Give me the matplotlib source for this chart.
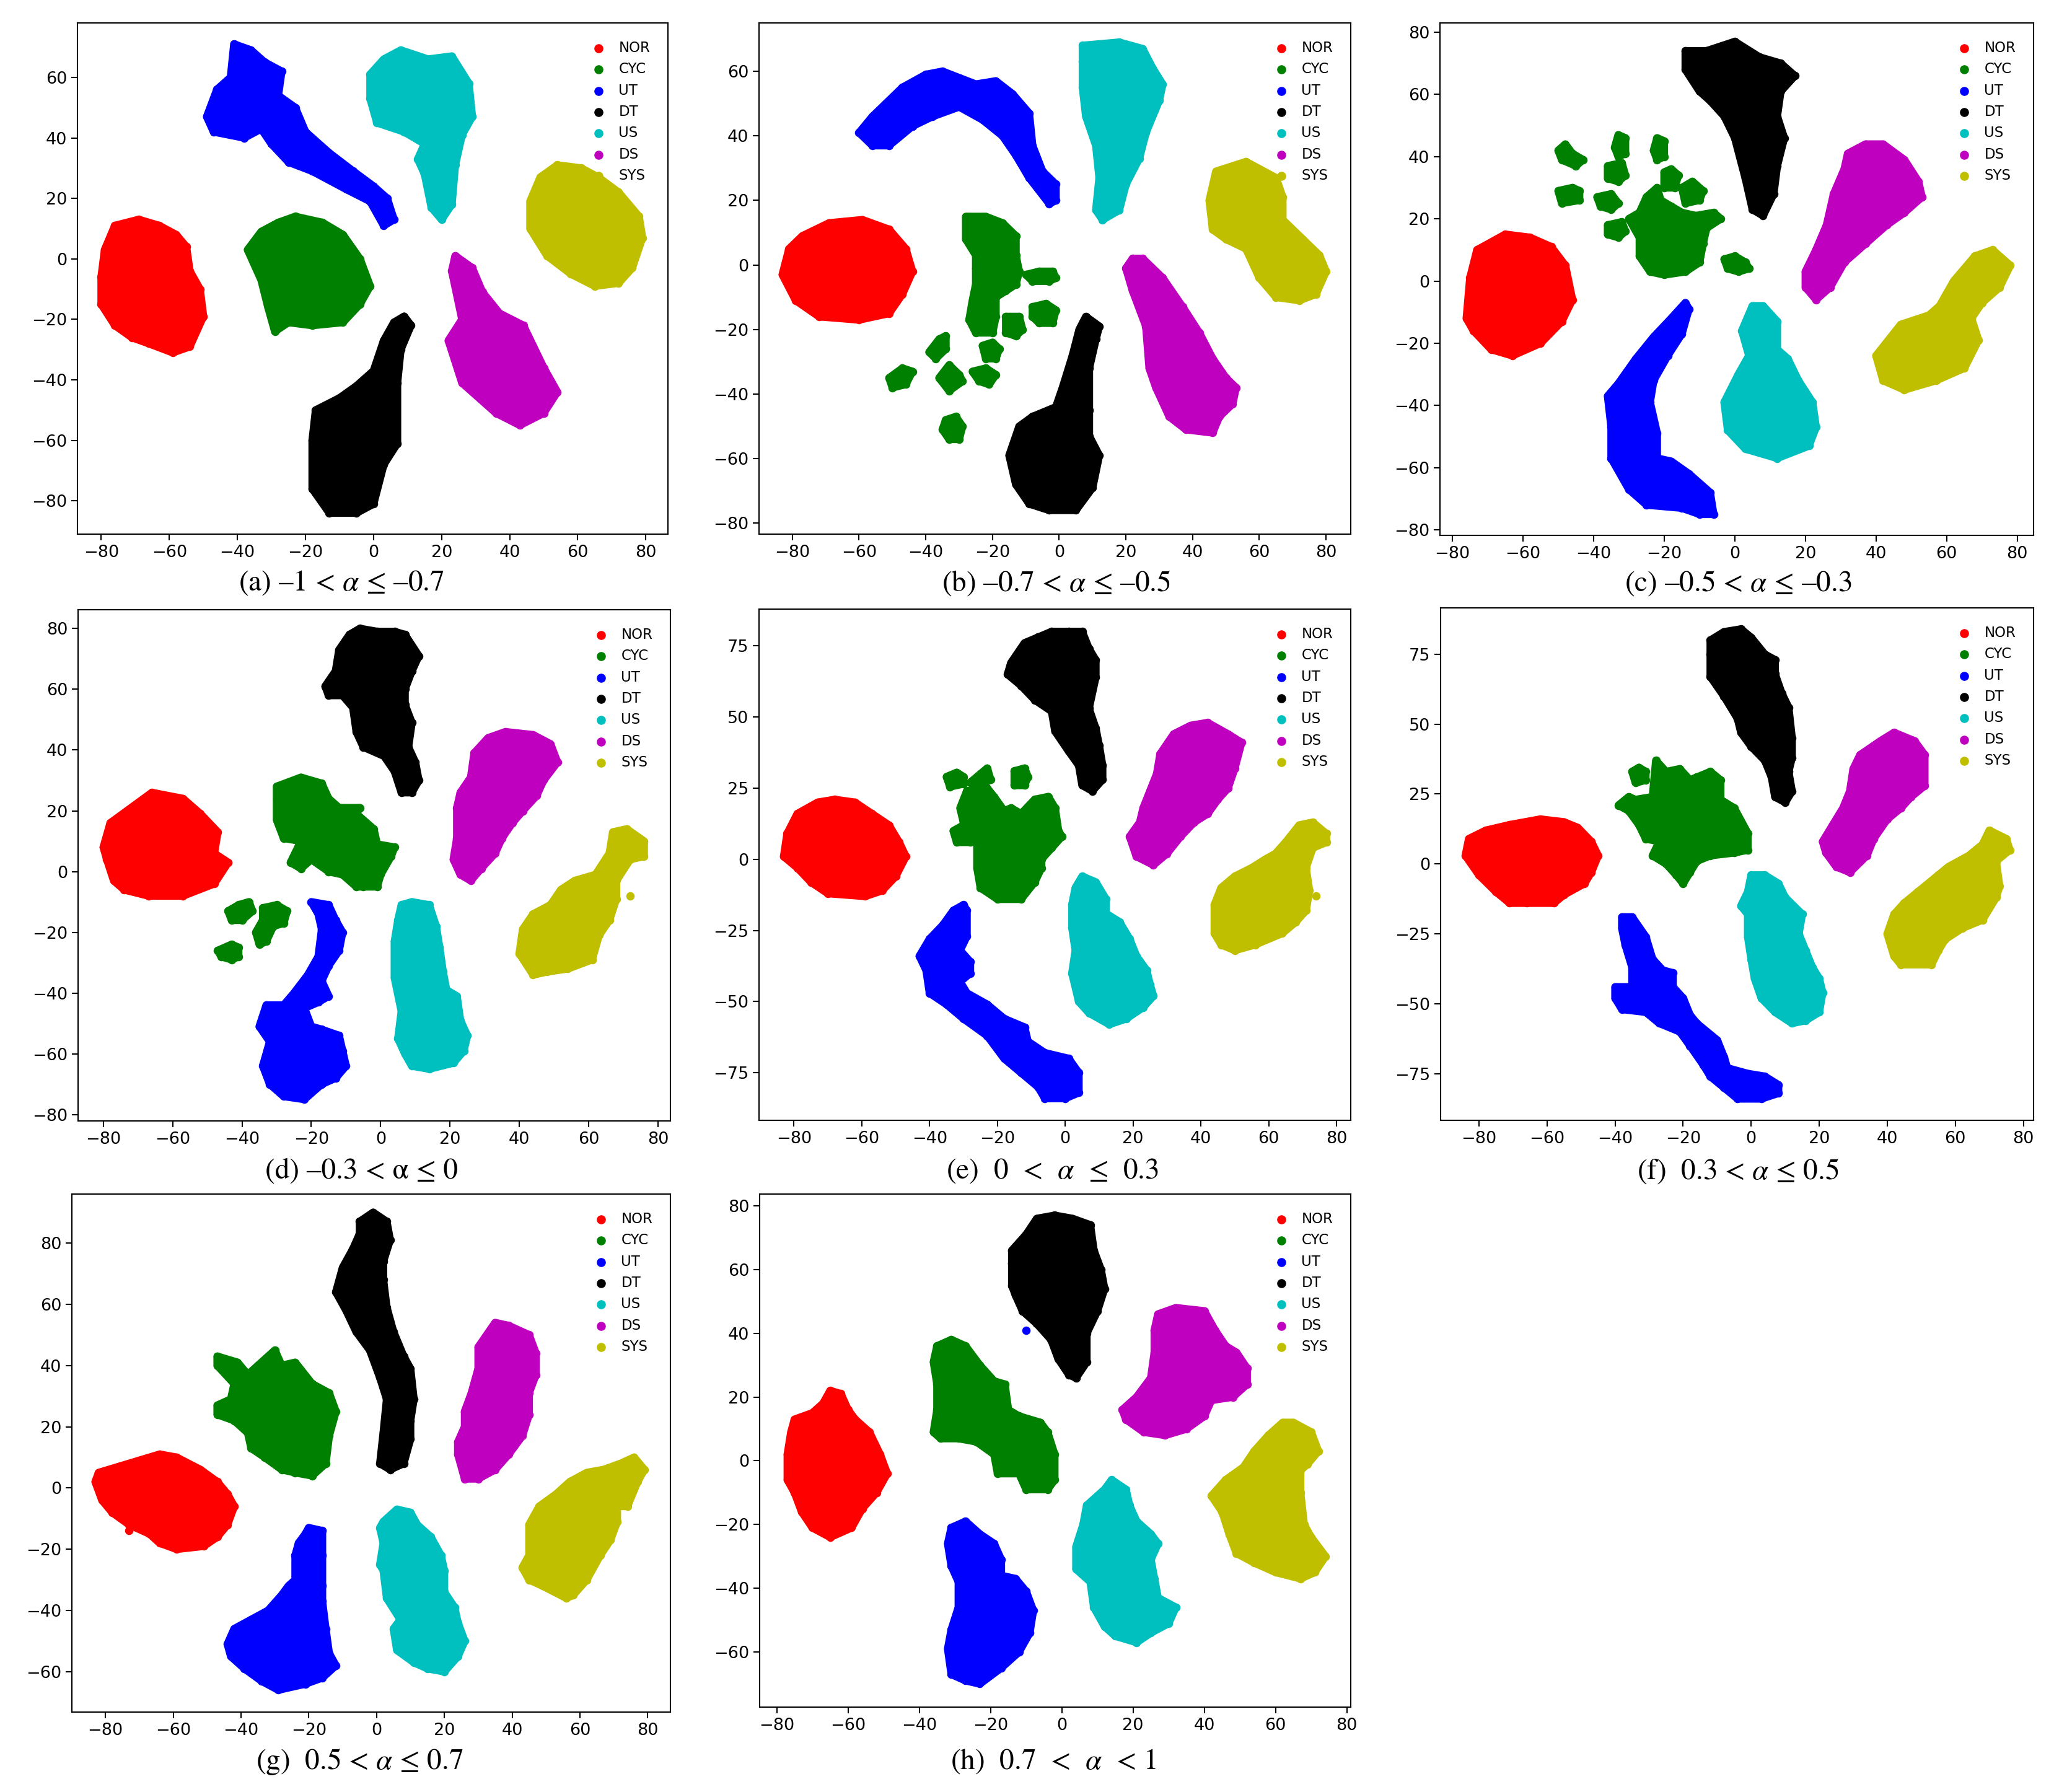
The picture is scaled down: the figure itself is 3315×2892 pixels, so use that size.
import matplotlib
matplotlib.use("Agg")
import matplotlib.pyplot as plt

# t-SNE clusters (data coordinates).
# Every cluster is a list of polygons, so small islands can be added.

CLASSES = ["NOR", "CYC", "UT", "DT", "US", "DS", "SYS"]
COLORS = ["r", "g", "b", "k", "c", "m", "y"]

# ---- (a) -1 < alpha <= -0.7
A_NOR = [[(-69, 13), (-63, 11), (-58, 8), (-55, 4), (-54, -4), (-51, -10), (-50, -19), (-54, -29), (-59, -31),
          (-66, -28), (-71, -26), (-76, -22), (-80, -15), (-80, -6), (-79, 3), (-76, 11)]]
A_CYC = [[(-23, 14), (-15, 12), (-9, 8), (-4, 0), (-1, -9), (-4, -15), (-9, -21), (-18, -22), (-25, -21),
          (-29, -24), (-31, -16), (-33, -7), (-37, 3), (-33, 9), (-28, 12)]]
A_UT = [[(-41, 71), (-36, 69), (-32, 65), (-27, 62), (-28, 54), (-23, 50), (-20, 42), (-13, 35), (-6, 29), (0, 24),
         (4, 20), (6, 13), (3, 11), (-1, 19), (-8, 23), (-18, 29), (-25, 32), (-30, 38), (-33, 43), (-38, 40),
         (-47, 42), (-49, 47), (-46, 56), (-42, 60)]]
A_DT = [[(9, -19), (11, -22), (8, -30), (7, -41), (7, -61), (3, -68), (0, -81), (-5, -84), (-13, -84), (-18, -76),
         (-18, -60), (-17, -50), (-10, -46), (-5, -42), (0, -37), (3, -27), (6, -21)]]
A_US = [[(-1, 61), (3, 66), (8, 69), (16, 66), (23, 67), (28, 58), (29, 47), (26, 41), (24, 31), (23, 18), (20, 13),
         (17, 17), (15, 28), (13, 33), (15, 38), (9, 42), (1, 45), (-1, 53)]]
A_DS = [[(24, 1), (29, -3), (32, -11), (37, -18), (44, -22), (50, -36), (54, -44), (50, -51), (43, -55), (36, -51),
         (26, -41), (22, -27), (26, -20), (23, -4)]]
A_SYS = [[(46, 19), (49, 27), (54, 31), (61, 30), (66, 27), (72, 22), (78, 14), (79, 7), (76, -3), (72, -8),
          (65, -9), (58, -5), (51, 1), (46, 10)]]

# ---- (b) -0.7 < alpha <= -0.5
B_NOR = [[(-83, -3), (-81, 5), (-77, 9), (-69, 13), (-59, 14), (-51, 11), (-46, 5), (-44, -2), (-47, -9),
          (-51, -15), (-60, -17), (-72, -16), (-79, -11)]]
B_CYC = [[(-28, 15), (-22, 15), (-17, 13), (-13, 9), (-13, 3), (-12, -2), (-13, -6), (-16, -8), (-19, -10),
          (-19, -16), (-20, -21), (-25, -21), (-27, -17), (-26, -11), (-25, -6), (-25, -1), (-25, 3), (-28, 8)],
         [(-16, -16), (-12, -16), (-11, -20), (-13, -22), (-16, -21)],
         [(-10, -3), (-6, -2), (-2, -2), (-1, -4), (-3, -5), (-8, -5)],
         [(-8, -13), (-4, -12), (-1, -14), (-2, -18), (-6, -18), (-8, -16)],
         [(-23, -25), (-20, -24), (-18, -26), (-19, -29), (-22, -29)],
         [(-26, -33), (-22, -32), (-19, -34), (-21, -37), (-24, -36)],
         [(-39, -27), (-36, -23), (-34, -22), (-34, -26), (-37, -29)],
         [(-36, -35), (-33, -31), (-30, -34), (-29, -36), (-33, -39)],
         [(-51, -35), (-47, -32), (-44, -33), (-46, -37), (-50, -38)],
         [(-34, -48), (-31, -47), (-29, -50), (-30, -54), (-33, -54), (-35, -51)]]
B_UT = [[(-60, 41), (-56, 46), (-52, 50), (-47, 55), (-40, 59), (-35, 60), (-30, 58), (-25, 56), (-19, 57),
         (-14, 53), (-9, 47), (-8, 37), (-5, 29), (-1, 25), (-1, 20), (-3, 19), (-9, 27), (-13, 34), (-17, 40),
         (-23, 45), (-30, 49), (-38, 46), (-44, 43), (-51, 37), (-56, 37)]]
B_DT = [[(8, -16), (12, -19), (11, -23), (9, -32), (9, -45), (9, -53), (12, -59), (10, -69), (5, -76), (-3, -76),
         (-9, -74), (-13, -68), (-15, -59), (-12, -50), (-8, -47), (-1, -44), (1, -38), (4, -28), (6, -20)]]
B_US = [[(7, 68), (18, 69), (25, 67), (28, 61), (31, 56), (30, 51), (26, 41), (24, 33), (20, 25), (18, 17),
         (13, 14), (11, 17), (12, 27), (11, 37), (8, 46), (7, 55), (7, 63)]]
B_DS = [[(22, 2), (25, 2), (31, -4), (37, -13), (42, -21), (46, -29), (50, -35), (53, -38), (52, -43), (48, -47),
         (46, -52), (38, -51), (33, -47), (29, -38), (27, -32), (26, -19), (22, -8), (20, -1)]]
B_SYS = [[(47, 29), (56, 32), (65, 27), (67, 21), (67, 14), (73, 8), (78, 3), (80, -2), (77, -9), (72, -11),
          (65, -10), (60, -4), (56, 5), (50, 8), (46, 11), (45, 20)]]

# ---- (c) -0.5 < alpha <= -0.3
C_NOR = [[(-75, 1), (-73, 10), (-65, 15), (-58, 14), (-52, 11), (-48, 5), (-46, -6), (-49, -13), (-55, -20),
          (-63, -24), (-69, -22), (-74, -16), (-76, -12)]]
C_CYC = [[(-30, 20), (-27, 22), (-25, 27), (-22, 30), (-21, 26), (-18, 24), (-15, 22), (-11, 21), (-6, 22),
          (-4, 20), (-8, 17), (-9, 12), (-10, 6), (-14, 3), (-20, 2), (-24, 3), (-27, 8), (-27, 14)],
         [(-50, 42), (-48, 44), (-46, 41), (-43, 39), (-45, 37), (-49, 39)],
         [(-50, 29), (-46, 30), (-44, 29), (-44, 26), (-49, 25)],
         [(-33, 47), (-31, 46), (-31, 41), (-33, 40), (-34, 43)],
         [(-36, 37), (-32, 38), (-31, 34), (-33, 32), (-36, 33)],
         [(-39, 27), (-35, 28), (-33, 25), (-35, 23), (-38, 24)],
         [(-36, 18), (-32, 19), (-31, 16), (-33, 14), (-36, 15)],
         [(-22, 46), (-20, 45), (-20, 40), (-22, 39), (-23, 42)],
         [(-20, 35), (-18, 36), (-16, 34), (-17, 30), (-20, 30)],
         [(-15, 30), (-12, 32), (-9, 29), (-10, 26), (-14, 25)],
         [(-3, 7), (0, 8), (3, 6), (4, 4), (1, 3), (-2, 4)]]
C_UT = [[(-14, -7), (-13, -9), (-15, -17), (-19, -24), (-23, -32), (-24, -39), (-22, -49), (-22, -57), (-18, -58),
         (-13, -62), (-7, -68), (-6, -75), (-10, -75), (-15, -73), (-25, -72), (-30, -67), (-35, -57), (-35, -47),
         (-36, -37), (-33, -33), (-28, -25), (-23, -18), (-18, -12)]]
C_DT = [[(-14, 74), (-8, 74), (0, 77), (7, 72), (13, 70), (17, 66), (13, 61), (12, 53), (14, 46), (12, 37), (11, 28),
         (8, 21), (5, 23), (3, 33), (0, 46), (-3, 53), (-7, 58), (-10, 61), (-14, 68)]]
C_US = [[(5, -8), (8, -8), (12, -13), (12, -22), (15, -25), (18, -32), (22, -39), (23, -47), (21, -53), (12, -57),
         (3, -54), (-2, -48), (-3, -39), (1, -30), (4, -24), (2, -16)]]
C_DS = [[(32, 41), (37, 44), (42, 44), (48, 39), (52, 32), (53, 27), (48, 22), (43, 18), (37, 12), (31, 6), (27, -2),
         (23, -6), (20, -2), (20, 3), (23, 10), (26, 18), (28, 28), (31, 36)]]
C_SYS = [[(40, -24), (47, -14), (55, -11), (58, -8), (62, 0), (68, 8), (73, 10), (78, 5), (75, -2), (70, -7),
          (67, -12), (69, -19), (65, -28), (57, -32), (48, -35), (42, -32)]]

# ---- (d) -0.3 < alpha <= 0
D_NOR = [[(-80, 8), (-78, 16), (-72, 21), (-66, 26), (-57, 24), (-52, 19), (-47, 13), (-48, 6), (-44, 3), (-48, -4),
          (-57, -8), (-67, -8), (-74, -6), (-77, -3), (-79, 4)]]
D_CYC = [[(-30, 28), (-23, 31), (-17, 29), (-15, 24), (-12, 21), (-6, 21), (-7, 19), (-2, 14), (-1, 9), (4, 8),
          (3, 5), (0, -1), (-1, -5), (-5, -5), (-7, -5), (-11, -1), (-15, 0), (-20, 4), (-23, 1), (-26, 3),
          (-23, 10), (-28, 11), (-30, 17), (-30, 24)],
         [(-44, -13), (-41, -11), (-38, -10), (-37, -13), (-40, -16), (-43, -16)],
         [(-34, -12), (-30, -11), (-27, -13), (-28, -17), (-31, -18), (-33, -23), (-35, -24), (-36, -20), (-34, -16)],
         [(-47, -26), (-43, -24), (-41, -25), (-41, -28), (-43, -29), (-46, -28)]]
D_UT = [[(-20, -10), (-15, -11), (-13, -16), (-11, -20), (-12, -26), (-15, -31), (-17, -36), (-15, -41), (-18, -43),
         (-22, -45), (-20, -51), (-17, -52), (-12, -54), (-11, -59), (-10, -64), (-13, -68), (-17, -70), (-22, -75),
         (-28, -74), (-32, -70), (-34, -64), (-32, -56), (-35, -51), (-33, -44), (-28, -44), (-25, -40), (-21, -34),
         (-18, -28), (-17, -19), (-18, -14)]]
D_DT = [[(-9, 78), (-6, 80), (-1, 79), (4, 79), (7, 78), (11, 71), (9, 66), (7, 60), (7, 55), (9, 49), (8, 41),
         (10, 36), (11, 30), (9, 26), (6, 26), (4, 33), (1, 38), (-5, 41), (-7, 46), (-8, 54), (-11, 58), (-15, 58),
         (-16, 61), (-13, 66), (-12, 73)]]
D_US = [[(9, -10), (14, -11), (16, -18), (17, -25), (18, -33), (19, -39), (22, -41), (23, -49), (25, -54), (24, -59),
         (21, -63), (14, -65), (9, -64), (7, -60), (5, -55), (6, -46), (4, -35), (4, -23), (5, -16), (6, -11)]]
D_DS = [[(27, 39), (31, 44), (36, 46), (44, 45), (49, 42), (51, 36), (47, 30), (45, 25), (41, 20), (38, 16),
         (35, 11), (33, 6), (29, 1), (26, -3), (23, -1), (21, 4), (22, 11), (22, 21), (23, 26), (26, 31)]]
D_SYS = [[(40, -27), (41, -19), (44, -14), (49, -11), (52, -6), (56, -3), (62, -1), (66, 6), (67, 13), (71, 14),
          (76, 10), (76, 5), (72, 4), (68, -3), (68, -9), (66, -16), (63, -21), (61, -29), (54, -32), (48, -33),
          (44, -34)],
         [(72, -8)]]

# ---- (e) 0 < alpha <= 0.3
E_NOR = [[(-83, 1), (-82, 9), (-79, 16), (-73, 20), (-68, 21), (-62, 20), (-57, 16), (-52, 12), (-49, 6), (-47, 1),
          (-50, -6), (-54, -11), (-59, -13), (-70, -12), (-75, -8), (-79, -3)]]
E_CYC = [[(-31, 18), (-29, 24), (-23, 25), (-21, 22), (-18, 17), (-16, 18), (-13, 16), (-9, 21), (-5, 22), (-3, 18),
          (-2, 10), (-1, 8), (-4, 4), (-7, 0), (-7, -3), (-9, -8), (-13, -14), (-20, -14), (-25, -10), (-26, -3),
          (-26, 5), (-27, 10), (-30, 13)],
         [(-35, 29), (-32, 30.5), (-30, 29), (-30, 26.5), (-34, 25.5)],
         [(-28, 27), (-25, 30), (-23, 32), (-22, 28), (-25, 26)],
         [(-15, 31), (-12, 32), (-11, 29), (-12, 26), (-15, 26)],
         [(-33, 10), (-30, 12), (-27, 10), (-28, 6), (-32, 6)]]
E_UT = [[(-30, -16), (-29, -18), (-29, -27), (-31, -32), (-28, -36), (-28, -40), (-31, -43), (-29, -47), (-23, -51),
         (-18, -56), (-12, -59), (-11, -64), (-6, -68), (1, -70), (4, -75), (4, -82), (0, -84), (-6, -84), (-8, -80),
         (-13, -75), (-18, -70), (-23, -62), (-30, -56), (-35, -51), (-40, -47), (-41, -39), (-43, -34), (-40, -28),
         (-36, -23), (-33, -18)]]
E_DT = [[(-16, 69), (-12, 76), (-8, 78), (-4, 80), (1, 80), (5, 80), (7, 74), (9, 70), (9, 64), (7, 53), (9, 46),
         (10, 40), (11, 33), (11, 28), (8, 24), (5, 26), (4, 33), (1, 38), (-3, 45), (-4, 52), (-9, 56), (-13, 61),
         (-17, 65)]]
E_US = [[(5, -6), (9, -8), (12, -14), (12, -19), (16, -22), (19, -28), (21, -34), (24, -39), (25, -44), (26, -48),
         (23, -52), (18, -56), (13, -58), (7, -54), (4, -50), (2, -40), (3, -32), (2, -24), (2, -16), (3, -10)]]
E_DS = [[(28, 37), (32, 44), (37, 47), (42, 48), (48, 44), (52, 41), (50, 32), (48, 25), (45, 21), (42, 16),
         (38, 13), (34, 8), (30, 2), (26, -2), (21, 1), (19, 8), (22, 13), (23, 18), (25, 24), (27, 30)]]
E_SYS = [[(44, -26), (44, -16), (46, -10), (50, -6), (55, -3), (59, 0), (62, 2), (65, 6), (69, 12), (73, 13), (77, 9),
          (77, 6), (73, 4), (71, -3), (72, -11), (71, -18), (68, -22), (64, -26), (56, -30), (50, -32), (46, -30)],
         [(74, -13)]]

# ---- (f) 0.3 < alpha <= 0.5
F_NOR = [[(-84, 3), (-83, 9), (-78, 12), (-71, 14), (-62, 16), (-55, 15), (-51, 13), (-47, 8), (-45, 3), (-47, -3),
          (-49, -7), (-55, -11), (-58, -14), (-66, -14), (-71, -14), (-75, -10), (-80, -4)]]
F_CYC = [[(-39, 21), (-36, 24), (-34, 23), (-29, 24), (-28, 37), (-25, 33), (-21, 34), (-18, 30), (-16, 31),
          (-12, 33), (-9, 30), (-9, 23), (-5, 20), (-1, 11), (-1, 5), (-5, 4), (-12, 3), (-16, 1), (-18, -3),
          (-20, -7), (-22, -4), (-25, 0), (-29, 3), (-27, 8), (-31, 9), (-33, 14), (-36, 19)],
         [(-35, 33), (-33, 34.5), (-31, 33), (-31, 30), (-34, 29)]]
F_UT = [[(-38, -19), (-35, -19), (-31, -26), (-29, -34), (-26, -38), (-23, -39), (-23, -44), (-20, -48), (-18, -54),
         (-16, -57), (-10, -63), (-8, -69), (-7, -73), (-1, -75), (4, -76), (8, -79), (8, -82), (3, -84), (-4, -84),
         (-8, -80), (-12, -76), (-14, -72), (-18, -65), (-21, -60), (-27, -57), (-31, -53), (-38, -52), (-40, -48),
         (-40, -44), (-35, -44), (-35, -37), (-37, -29), (-38, -23)]]
F_DT = [[(-12, 80), (-8, 83), (-3, 84), (0, 81), (4, 75), (7, 73), (7, 68), (9, 61), (11, 56), (12, 45), (12, 38),
         (11, 33), (12, 26), (10, 22), (7, 24), (6, 31), (4, 37), (0, 42), (-3, 47), (-4, 52), (-8, 60), (-12, 67),
         (-12, 75)]]
F_US = [[(0, -4), (4, -4), (8, -7), (10, -12), (15, -18), (14, -25), (16, -31), (18, -37), (20, -41), (21, -46),
         (20, -53), (16, -56), (12, -57), (7, -53), (3, -48), (1, -41), (0, -34), (-1, -26), (-1, -18), (-3, -15),
         (-1, -10)]]
F_DS = [[(30, 34), (32, 39), (38, 44), (42, 47), (48, 44), (51, 39), (51, 28), (47, 24), (44, 20), (40, 16), (36, 9),
         (34, 3), (29, -3), (25, -1), (22, 4), (21, 8), (24, 14), (27, 20), (29, 26)]]
F_SYS = [[(40, -25), (42, -18), (45, -14), (49, -10), (55, -4), (58, -1), (64, 3), (68, 7), (70, 12), (75, 9),
          (76, 5), (72, 1), (73, -8), (72, -12), (68, -20), (62, -23), (57, -27), (55, -31), (53, -36), (44, -36),
          (42, -33)]]

# ---- (g) 0.5 < alpha <= 0.7
G_NOR = [[(-83, 2), (-82, 5), (-76, 7), (-70, 9), (-64, 11), (-59, 10), (-52, 6), (-47, 2), (-44, -2), (-42, -6),
          (-44, -12), (-47, -16), (-51, -19), (-59, -20), (-64, -18), (-67, -15), (-73, -12), (-78, -8), (-81, -4)],
         [(-73, -14)]]
G_CYC = [[(-47, 43), (-41, 41), (-38, 37), (-35, 40), (-30, 45), (-28, 40), (-24, 41), (-19, 34), (-14, 31),
          (-12, 25), (-14, 17), (-15, 8), (-19, 4), (-24, 5), (-28, 6), (-33, 10), (-37, 13), (-38, 18), (-42, 22),
          (-47, 24), (-47, 27), (-43, 29), (-42, 34), (-47, 40)]]
G_UT = [[(-20, -13), (-16, -14), (-16, -22), (-16, -32), (-16, -37), (-15, -46), (-14, -54), (-12, -58), (-16, -62),
         (-21, -64), (-29, -66), (-34, -63), (-39, -59), (-43, -55), (-44, -51), (-42, -46), (-37, -43), (-32, -40),
         (-28, -35), (-26, -32), (-24, -30), (-24, -22), (-23, -18), (-21, -15)]]
G_DT = [[(-5, 87), (-1, 90), (3, 87), (4, 81), (2, 74), (2, 68), (3, 59), (5, 51), (8, 43), (10, 39), (11, 29),
         (10, 22), (10, 16), (8, 8), (4, 6), (1, 8), (2, 18), (3, 29), (1, 36), (-2, 45), (-6, 51), (-9, 58),
         (-12, 64), (-10, 72), (-7, 78), (-5, 83)]]
G_US = [[(2, -11), (6, -7), (10, -8), (12, -12), (16, -16), (19, -22), (20, -27), (20, -34), (23, -39), (24, -44),
         (26, -50), (24, -55), (20, -60), (15, -59), (11, -57), (6, -53), (5, -46), (7, -43), (3, -36), (2, -27),
         (1, -25), (2, -18), (1, -13)]]
G_DS = [[(30, 46), (35, 54), (39, 53), (45, 50), (47, 44), (47, 37), (45, 31), (45, 24), (43, 17), (39, 11), (35, 6),
         (30, 3), (26, 3), (24, 11), (24, 15), (26, 20), (26, 25), (28, 31), (30, 39)]]
G_SYS = [[(43, -26), (45, -22), (45, -12), (48, -6), (53, -2), (57, 2), (62, 5), (67, 6), (72, 8), (76, 10), (79, 6),
          (77, 2), (74, -6), (71, -6), (71, -11), (69, -17), (66, -22), (62, -30), (58, -35), (56, -36), (49, -32),
          (45, -30)]]

# ---- (h) 0.7 < alpha < 1
H_NOR = [[(-65, 22), (-62, 21), (-60, 16), (-58, 13), (-54, 9), (-51, 2), (-49, -4), (-52, -10), (-56, -15),
          (-59, -21), (-65, -24), (-70, -21), (-73, -16), (-75, -10), (-77, -6), (-77, 2), (-76, 9), (-75, 13),
          (-70, 15), (-67, 18)]]
H_CYC = [[(-35, 36), (-31, 38), (-27, 36), (-23, 30), (-19, 25), (-16, 24), (-15, 16), (-12, 14), (-6, 12), (-4, 9),
          (-2, 2), (-2, -6), (-4, -9), (-10, -9), (-12, -4), (-18, -4), (-19, 2), (-24, 6), (-29, 7), (-34, 7),
          (-36, 9), (-35, 16), (-35, 24), (-36, 31)]]
H_UT = [[(-31, -21), (-27, -19), (-23, -23), (-19, -26), (-17, -31), (-17, -36), (-13, -37), (-10, -41), (-8, -47),
         (-9, -54), (-12, -60), (-17, -65), (-23, -70), (-27, -69), (-31, -67), (-32, -59), (-31, -53), (-29, -46),
         (-29, -38), (-31, -33), (-32, -26)]]
H_UT_STRAY = [(-10, 41)]
H_DT = [[(-14, 66), (-10, 71), (-7, 76), (-2, 77), (3, 76), (8, 74), (9, 66), (11, 60), (12, 54), (10, 47), (7, 40),
         (7, 31), (4, 26), (2, 27), (-1, 32), (-3, 38), (-7, 43), (-11, 47), (-13, 52), (-14, 55), (-14, 62)]]
H_US = [[(12, -9), (14, -6), (18, -9), (19, -14), (21, -19), (25, -23), (27, -26), (25, -31), (26, -37), (27, -43),
         (32, -46), (30, -51), (25, -54), (21, -57), (15, -55), (12, -52), (9, -46), (8, -38), (4, -34), (4, -27),
         (6, -20), (7, -14)]]
H_DS = [[(27, 46), (32, 48), (40, 47), (43, 41), (46, 36), (49, 34), (52, 29), (52, 24), (48, 20), (42, 19), (40, 14),
         (35, 10), (29, 8), (23, 9), (18, 13), (17, 16), (21, 20), (25, 26), (26, 34), (26, 41)]]
H_SYS = [[(42, -11), (46, -6), (51, -2), (54, 3), (58, 8), (62, 12), (65, 12), (70, 9), (72, 3), (69, -1), (67, -3),
          (67, -10), (68, -20), (70, -24), (74, -30), (71, -35), (67, -37), (60, -35), (54, -32), (49, -29), (47, -23),
          (45, -16)]]

CAPTIONS = [
    "(a) \u20131 < $\\alpha$ \u2264 \u20130.7",
    "(b) \u20130.7 < $\\alpha$ \u2264 \u20130.5",
    "(c) \u20130.5 < $\\alpha$ \u2264 \u20130.3",
    "(d) \u20130.3 < \u03b1 \u2264 0",
    "(e)  0  <  $\\alpha$  \u2264  0.3",
    "(f)  0.3 < $\\alpha$ \u2264 0.5",
    "(g)  0.5 < $\\alpha$ \u2264 0.7",
    "(h)  0.7  <  $\\alpha$  < 1",
]

X_TICKS = [-80, -60, -40, -20, 0, 20, 40, 60, 80]
Y_TICKS = [
    [-80, -60, -40, -20, 0, 20, 40, 60],
    [-80, -60, -40, -20, 0, 20, 40, 60],
    [-80, -60, -40, -20, 0, 20, 40, 60, 80],
    [-80, -60, -40, -20, 0, 20, 40, 60, 80],
    [-75, -50, -25, 0, 25, 50, 75],
    [-75, -50, -25, 0, 25, 50, 75],
    [-60, -40, -20, 0, 20, 40, 60, 80],
    [-60, -40, -20, 0, 20, 40, 60, 80],
]

W, H = 3316, 2892
# axes boxes in pixels: left, top, right, bottom
AX_BOXES = [
    (125, 37, 1078, 862), (1225, 37, 2180, 862), (2324, 37, 3282, 864),
    (126, 984, 1082, 1809), (1225, 983, 2180, 1808), (2325, 981, 3282, 1808),
    (116, 1927, 1082, 2763), (1226, 1927, 2180, 2755),
]
AX_LIMITS = [
    ((-87, 86.5), (-91, 78)), ((-90, 87.4), (-83.4, 75)), ((-83.5, 84.6), (-81.8, 83)),
    ((-87.3, 83.6), (-82.1, 86.2)), ((-90.3, 84.2), (-91.7, 87.9)), ((-91.3, 83), (-91.7, 91.6)),
    ((-89.9, 86.7), (-73.2, 96)), ((-84.8, 81.1), (-77.3, 83.7)),
]
CAPTION_POS = [(551, 941), (1705, 941), (2805, 941),
               (584, 1890), (1698, 1890), (2805, 1890),
               (580, 2843), (1700, 2843)]


def draw_cluster(ax, polys, color):
    for poly in polys:
        xs = [p[0] for p in poly]
        ys = [p[1] for p in poly]
        if len(poly) > 2:
            ax.fill(xs, ys, color=color, lw=9, joinstyle='round', zorder=2)
        ax.scatter(xs, ys, s=95, color=color, linewidths=0, zorder=3)


def draw_panel(ax, clusters, idx):
    for polys, color in zip(clusters, COLORS):
        draw_cluster(ax, polys, color)
    for name, color in zip(CLASSES, COLORS):
        ax.scatter([], [], s=90, color=color, label=name)

    ax.set_xlim(*AX_LIMITS[idx][0])
    ax.set_ylim(*AX_LIMITS[idx][1])
    ax.set_xticks(X_TICKS)
    ax.set_yticks(Y_TICKS[idx])
    ax.tick_params(labelsize=19.5, length=7, width=1.5, pad=5)
    for sp in ax.spines.values():
        sp.set_linewidth(1.5)
    ax.legend(loc='upper right', frameon=False, fontsize=16.5, labelspacing=0.5,
              handletextpad=0.4, borderaxespad=0.85, scatterpoints=1)


def main():
    plt.rcParams['mathtext.fontset'] = 'stix'

    panels = [
        [A_NOR, A_CYC, A_UT, A_DT, A_US, A_DS, A_SYS],
        [B_NOR, B_CYC, B_UT, B_DT, B_US, B_DS, B_SYS],
        [C_NOR, C_CYC, C_UT, C_DT, C_US, C_DS, C_SYS],
        [D_NOR, D_CYC, D_UT, D_DT, D_US, D_DS, D_SYS],
        [E_NOR, E_CYC, E_UT, E_DT, E_US, E_DS, E_SYS],
        [F_NOR, F_CYC, F_UT, F_DT, F_US, F_DS, F_SYS],
        [G_NOR, G_CYC, G_UT, G_DT, G_US, G_DS, G_SYS],
        [H_NOR, H_CYC, H_UT, H_DT, H_US, H_DS, H_SYS],
    ]

    fig = plt.figure(figsize=(W / 100, H / 100), dpi=100)
    for i, clusters in enumerate(panels):
        l, t, r, b = AX_BOXES[i]
        ax = fig.add_axes([l / W, 1 - b / H, (r - l) / W, (b - t) / H])
        draw_panel(ax, clusters, i)
        if i == 7:
            # the single blue point sitting next to the DT cluster
            ax.scatter([p[0] for p in H_UT_STRAY], [p[1] for p in H_UT_STRAY],
                       s=95, color='b', linewidths=0, zorder=5)
        cx, cy = CAPTION_POS[i]
        fig.text(cx / W, 1 - cy / H, CAPTIONS[i], ha='center', va='center',
                 fontsize=34, family='STIXGeneral')

    fig.savefig("out.png", dpi=100)


main()
